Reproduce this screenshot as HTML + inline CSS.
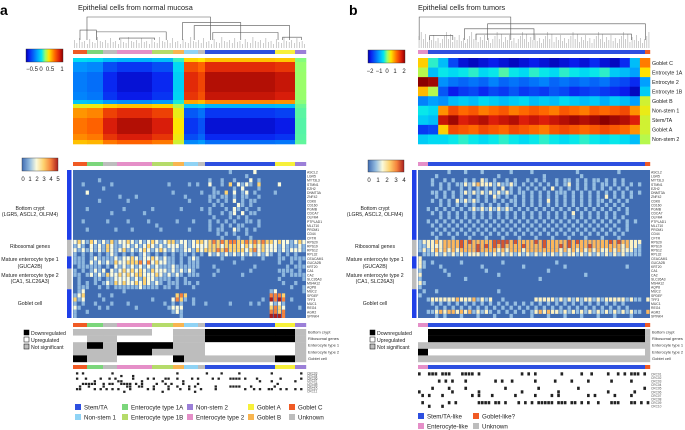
<!DOCTYPE html>
<html><head><meta charset="utf-8"><style>
html,body{margin:0;padding:0;background:#fff;}
svg{display:block;font-family:"Liberation Sans",sans-serif;}
</style></head><body>
<svg id="fig" width="685" height="430" viewBox="0 0 685 430" xmlns="http://www.w3.org/2000/svg">
<text x="0" y="15" font-size="14" font-weight="bold">a</text>
<text x="78" y="10" font-size="7.3" fill="#222">Epithelial cells from normal mucosa</text>
<text x="349" y="15" font-size="14" font-weight="bold">b</text>
<text x="418" y="10" font-size="7.3" fill="#222">Epithelial cells from tumors</text>
<g id="layer"></g>
</svg>
<script>
// ---------------- DATA ----------------
const groupNamesA = ["Goblet C","Enterocyte type 1A","Unknown","Enterocyte type 2","Enterocyte type 1B","Goblet B","Non-stem 1","Unknown","Stem/TA","Goblet A","Non-stem 2"];
const groupColorsA = ["#f05a24","#7bd67b","#bdbdbd","#e58fc8","#b5db6a","#f8b550","#8fd3f5","#bdbdbd","#2d4fe0","#f7f03a","#9b7fd8"];
const groupSizesA = [14,16,14,35,21,11,14,7,70,20,11];
const groupLoadA = [-0.55,-0.6,-0.85,-0.95,-0.85,-0.25,0.8,0.7,0.95,0.9,0.05];
const rowSizesA = [4,10,20,8,4,4,10,16,6,4];
const rowLoadA = [0.35,0.8,0.95,0.9,0.5,-0.35,-0.8,-0.95,-0.85,-0.6];

const groupNamesB = ["Enterocyte-like","Stem/TA-like","Goblet-like?"];
const groupColorsB = ["#e58fc8","#2d4fe0","#f05a24"];
const groupSizesB = [10,217,5];
const sigRowsB = ["Goblet C","Entrocyte 1A","Entrocyte 2","Entrocyte 1B","Goblet B","Non-stem 1","Stem/TA","Goblet A","Non-stem 2"];
const sigValsB = [
 [0.6,-0.2,-0.6,-1.4,-1.8,-1.9,-1.8,-1.7,-1.8,-1.9,-1.8,-1.7,-1.8,-1.9,-1.8,-1.7,-1.8,-1.6,-1.8,-1.9,-1.6,-0.6,1.0],
 [0.2,-0.6,-0.3,-0.4,-0.3,-0.2,-0.4,-0.3,-0.1,-0.3,-0.4,-0.2,-0.3,-0.4,-0.2,-0.3,-0.4,-0.3,-0.2,-0.5,-0.6,-0.8,0.5],
 [2.0,1.9,-0.9,-1.1,-1.2,-1.1,-1.2,-1.0,-1.2,-1.1,-1.2,-1.1,-1.0,-1.2,-1.1,-1.2,-1.1,-1.2,-1.1,-1.3,-1.4,-1.6,-0.8],
 [0.7,0.2,-1.3,-1.7,-1.5,-1.4,-1.6,-1.4,-1.5,-1.3,-1.5,-1.4,-1.5,-1.3,-1.4,-1.6,-1.5,-1.4,-1.5,-1.6,-1.7,-1.9,-0.5],
 [-1.0,-0.8,-0.9,-0.6,-0.5,-0.6,-0.4,-0.5,-0.6,-0.5,-0.4,-0.6,-0.5,-0.6,-0.4,-0.5,-0.6,-0.5,-0.7,-0.5,-0.6,-0.8,0.3],
 [-0.3,-0.4,0.9,1.3,1.1,1.2,1.0,1.1,1.2,1.0,1.1,1.2,1.1,1.0,1.2,1.1,1.0,1.2,1.1,1.2,1.3,0.9,0.4],
 [-0.5,-0.6,1.7,1.9,1.6,1.7,1.8,1.6,1.7,1.8,1.6,1.7,1.6,1.7,1.8,1.9,1.8,1.9,2.0,1.9,1.8,1.6,0.3],
 [-1.5,-1.4,0.6,1.3,1.2,1.1,1.3,1.2,1.1,1.3,1.2,1.1,1.0,1.2,1.3,1.2,1.1,1.2,1.3,1.2,1.1,0.9,0.3],
 [-0.5,-0.4,-0.4,-0.3,-0.2,-0.3,-0.4,-0.3,-0.2,-0.3,-0.4,-0.3,-0.2,-0.3,-0.4,-0.3,-0.2,-0.3,-0.4,-0.3,-0.4,-0.6,0.2]
];

const genes = ["ASCL2","LGR5","MYT3L3","STMN1","EZH2","DNMT3A","ZNF42","CDK6","CD160","PGMB","CDCA7","OLFM4","PTPLAD1","MLLT10","PROM1","CD44","CFTR",
 "RPS20","RPS19","RPS12","RPL32","CEACAM1","GUCA2B","KRT20","CA1","CA2","SLC26A3","MS4A12","AQP8","MUC2","SPDEF","TFF3","MUC1","REG4","AGR2","SPINK4"];
const geneGroupSizes = [17,4,3,5,7];
const geneGroupSide = ["#1f3fe8","#bdbdbd","#1f3fe8","#bdbdbd","#1f3fe8"];
const exprA = [
"000000000000000000000000000000000000001000002000000000000",
"000000000000000000000000000000000000000000100000000000000",
"000000100000000000000000000000000100100100020100000000000",
"001000000100000000000001000010100200103021210300002000000",
"000000010000000000000000000000000010000102000100000000000",
"000200000000000000000000100000010011030201201000010000000",
"000000000001000100000000000100000110110101100100000000000",
"000000100000010000000000000010000101010201011000000000000",
"000000000000000000000000000000000010100021010000000000000",
"000100000000100000010000001000010100010210100100000000000",
"000000000100000001000000000000000100101202011000000000000",
"000000000000000000000000000000000010001010100000000000000",
"001000001000010000100000010001000101010100110100000000000",
"000000000000000000001000000000000100101011000100000000000",
"000100000010001000000100000010000101100210101000000000000",
"000000000000000000000000000000000001010100100000000000000",
"000000000000000000000000000000000000100010010000000000000",
"232132121312232121232123312212332343434433434343323221232",
"121021213211221212321212221212222333233332323232221211121",
"212121213212312123212321211221323334343333234232221212221",
"101010101210101012101010101101010212121212121212101010100",
"111012111121223212232121101012100000100001000010001101111",
"111021212132233342423221101011100000000100000000001001010",
"011111101021212121212111211111100010000000001000000010111",
"101012120212323232132221212121000001000000010000001111010",
"110121213223232332223212121011100010000001000000000101111",
"010001101122221213221111010100000000000000000000001000001",
"010101012132322323212101110110100000000000000000000100100",
"011100101011111121111011010001000000000000000000000001001",
"012000000000100000000000000000000000000000000000120000001",
"123000100100000000000000034300000000000000000000444300000",
"312000010000000000010000243101000000000000000010545401000",
"101001000100010000000010101001001000001000010100212100000",
"210000101000000100000001222000000000000000000000343200010",
"100100000000000000000000121000000000000000000000443400000",
"100000000000000000000000001000000000000000000000555400000"
];
const exprB = [
"00000001000100010000001000010000000000100000000010000000",
"00001000000000000001000000000010000000010000000000000000",
"00010010100101021010010100101010010110101011010101000000",
"00010101011212322212112101010101010120101010110101010100",
"00000101001010101010201010101010201010101010101010100000",
"00011010101212121212121011010101011101010101010101010100",
"00001010101010101021010101010101010101010101020101010000",
"00010101021212101010101101010102010101010101101010100000",
"00000101010101010101010101010101010101010101010101000000",
"00101010101012121212121010101010101010101010101010100000",
"00010101010101010101010101010101010102010101010100100000",
"00000101010101010101010101010101010101010101010101000000",
"00101010101010101010101010101010101010101010101010101000",
"00010101010101010101010101010101010101010101010100100000",
"00001010101010101010101010101010101010101010101010100000",
"00010101010101010101010101010101010101010101010101000000",
"00001000100010001000100010001000100010001000100010000000",
"12223233334343333344443433334343333343433333334343322200",
"11222233334333434343433334333343334343333433333332322100",
"12123232323333433332323332333333332323232323223232221100",
"01112121212122212121212121212121212122121212121212111100",
"20000000000000000000000000000000000000000000000000000000",
"21010000001000000000100000000000010000000000000000000000",
"21000100000000010000000001000000000100000000000000100000",
"10000010000000001000000000000001000000000000000000000000",
"20000001000000000001000000000000000000001000000000000000",
"10000000000100000000000000000100000000000000000000000000",
"21000000000000000000000000000000000000000000000000000000",
"10000000000000000000000000000000000000000000000000000000",
"01001000000000000001000000000000000000000000000000000000",
"10000000000000000000000000000000000000000000000000000000",
"00122222232223121200100000002222212121212212122222121102",
"00010101010101010101010101010101010101010101010101000000",
"00001010101010101010101010101010101010101010101010100000",
"00112323323231212101010101012323221212121212121212121103",
"00001010001000100010001000010001000100010001000100010000"
];
const updownLabels = ["Bottom crypt","Ribosomal genes","Enterocyte type 1","Enterocyte type 2","Goblet cell"];
const updownA = [
 [2,2,2,2,1,2,2,2,0,0,2],
 [1,2,2,1,1,2,2,2,0,0,2],
 [2,0,2,0,0,2,2,2,1,1,2],
 [2,2,2,0,2,2,2,2,1,1,2],
 [0,2,2,1,1,0,2,2,2,0,2]
];
const updownB = [
 [1,0,2],[1,0,2],[2,2,2],[0,1,2],[2,2,2]
];
const mutLabelsA = ["CRC03","CRC04","CRC06","CRC07","CRC08","CRC09","CRC10","CRC11"];
const mutA = [
"0101000000000100000000000000000000010000000001000010000010000000000100000000010",
"0000000000000000100010000000000000000000000000000000000000000000000000000000000",
"0100100001001010000010000101000110010000101000010100011110100010000000100000010",
"0000000100000001100000010000001000000100000000000000000000000001000100000001000",
"0001111100101100111101010000100101000100001000000000000000000000000001000000000",
"0010010000100000001100110001000010010001010000001000011110001000000010000000000",
"0110000101010101000100000101000010001001000100001000000000100101001100101001010",
"0000000000000000010000000000001000000000010000000000000000000000000000000000000"
];
const mutLabelsB = ["CRC01","CRC02","CRC03","CRC04","CRC05","CRC06","CRC07","CRC08","CRC09","CRC10"];
const mutB = [
"1001110111000111101000000000000101010000000100000100100001001010111010",
"0000000000000000000000000000000000000000000000000000000000000000000000",
"0000001010100010000000010100100000010000010000100001000000100000100000",
"0000000000000000000000000000000000000000000000000000000000000000000000",
"0000100001000010000000000010000000001000000000001000000000000000000010",
"1000000000100000001000000000000100000000001000000000000001000000010000",
"0101000100000000101000100000010000010000101000000001010000010000100000",
"0000000000000000000000000000000000000000000000000000000000000000000000",
"0100000001010000001111011010001010101111101110110101001000111000110101",
"0001000100000000000000000000000000000000000000000000000000000000000000"
];
const dendroA = [[0.06,0.59,1.0],[0.03,0.10,0.58],[0.10,0.40,0.52],[0.47,0.72,0.82],[0.52,0.93,0.72],[0.60,0.88,0.5],[0.90,0.98,0.35],[0.20,0.35,0.32]];
const dendroB = [[0.005,0.40,1.0],[0.30,0.98,0.78],[0.20,0.50,0.62],[0.25,0.92,0.45],[0.05,0.15,0.4]];

// ---------------- HELPERS ----------------
const NS="http://www.w3.org/2000/svg";
const layer=document.getElementById('layer');
function mk(tag,attrs,parent){const e=document.createElementNS(NS,tag);for(const k in attrs)e.setAttribute(k,attrs[k]);(parent||layer).appendChild(e);return e;}
function grp(name){const g=document.createElementNS(NS,'g');
 
 
 layer.appendChild(g);return g;}
function lerp(a,b,t){return a+(b-a)*t;}
function ramp(stops,t){t=Math.max(0,Math.min(1,t));for(let i=1;i<stops.length;i++){if(t<=stops[i][0]){const s=stops[i-1],e=stops[i];const u=(t-s[0])/(e[0]-s[0]);return `rgb(${Math.round(lerp(s[1],e[1],u))},${Math.round(lerp(s[2],e[2],u))},${Math.round(lerp(s[3],e[3],u))})`;}}const l=stops[stops.length-1];return `rgb(${l[1]},${l[2]},${l[3]})`;}
const jetStops=[[0,0,0,170],[0.08,10,30,240],[0.3,0,160,255],[0.42,0,230,240],[0.52,150,255,110],[0.62,255,230,0],[0.78,255,100,0],[0.9,220,30,10],[1,140,0,0]];
const exprStops=[[0,64,108,178],[0.22,150,190,225],[0.4,250,250,220],[0.6,254,210,110],[0.8,245,130,60],[1,170,30,30]];
function jet(t){return ramp(jetStops,t);}
function exprCol(v,max){return ramp(exprStops,v/max);}
function scaleX(x0,w,total){return i=>x0+w*i/total;}

// ---------------- COLOUR BARS ----------------
function groupBar(x0,w,y,h,sizes,colors,name){
 const g=grp(name);const tot=sizes.reduce((a,b)=>a+b,0);const sx=scaleX(x0,w,tot);let c=0;
 sizes.forEach((s,i)=>{const r=mk('rect',{x:sx(c),y:y,width:sx(c+s)-sx(c)+0.2,height:h,fill:colors[i]},g);
  
  c+=s;});
}
[50,162,323,365].forEach(y=>groupBar(73,233,y,4,groupSizesA,groupColorsA,'cluster-color-bar-a'));
[50,162,323,365].forEach(y=>groupBar(418,232,y,4,groupSizesB,groupColorsB,'cluster-color-bar-b'));

// ---------------- DENDROGRAMS ----------------
function dendro(x0,w,y0,h,merges,name,dense){
 const g=grp(name);
 for(let i=0;i<dense.n;i++){const x=x0+w*(i+0.5)/dense.n;const hh=dense.h[i%dense.h.length];
  mk('line',{x1:x,y1:y0+h,x2:x,y2:y0+h-hh,stroke:'#999','stroke-width':0.5},g);}
 merges.forEach(m=>{const xa=x0+w*m[0],xb=x0+w*m[1],yy=y0+h-h*m[2];
  const base=y0+h-8;
  const p=mk('path',{d:`M${xa},${base}V${yy}H${xb}V${base}`,fill:'none',stroke:'#555','stroke-width':0.6},g);
  
  });
}
dendro(73,233,17,31,dendroA,'dendrogram-a',{n:90,h:[8,5,10,6,7,4,9,6,5,11,7,6]});
dendro(418,232,17,31,dendroB,'dendrogram-b',{n:110,h:[12,16,9,14,6,11,8,13,7,10,5,9]});

// ---------------- CORRELATION HEATMAP A ----------------
(function(){
 const g=grp('correlation-heatmap-a');
 const x0=73,w=233,y0=58,h=86;
 const ctot=groupSizesA.reduce((a,b)=>a+b,0),rtot=rowSizesA.reduce((a,b)=>a+b,0);
 const sx=scaleX(x0,w,ctot),sy=scaleX(y0,h,rtot);
 let r=0;
 rowSizesA.forEach((rs,ri)=>{let c=0;
  groupSizesA.forEach((cs,ci)=>{const v=rowLoadA[ri]*groupLoadA[ci];
   const cell=mk('rect',{x:sx(c),y:sy(r),width:sx(c+cs)-sx(c)+0.3,height:sy(r+rs)-sy(r)+0.3,fill:jet((v+1)/2)},g);
   
   
   c+=cs;});
  r+=rs;});
})();

// ---------------- SIGNATURE HEATMAP B ----------------
(function(){
 const g=grp('signature-heatmap-b');
 const x0=418,w=232,y0=58,h=86,rh=h/sigRowsB.length;
 sigValsB.forEach((row,ri)=>{const sx=scaleX(x0,w,row.length);
  row.forEach((v,ci)=>{const cell=mk('rect',{x:sx(ci),y:y0+ri*rh,width:sx(ci+1)-sx(ci)+0.3,height:rh+0.3,fill:jet((v+2)/4)},g);
   
   });
  const t=mk('text',{x:652,y:y0+ri*rh+rh/2+2,'font-size':5.3,fill:'#222'},g);t.textContent=sigRowsB[ri];
  
  
 });
})();

// ---------------- EXPRESSION HEATMAPS ----------------
function exprHeat(x0,w,data,max,name,labels){
 const g=grp(name);const y0=170,h=148,rh=h/data.length;
 mk('rect',{x:x0,y:y0,width:w,height:h,fill:exprCol(0,max)},g);
 data.forEach((s,ri)=>{const sx=scaleX(x0,w,s.length);
  for(let ci=0;ci<s.length;ci++){const v=+s[ci];if(v===0)continue;
   const cell=mk('rect',{x:sx(ci)+0.4,y:y0+ri*rh,width:(sx(ci+1)-sx(ci))*0.8,height:rh,fill:exprCol(v,max)},g);
   
   }
  if(labels){const t=mk('text',{x:x0+w+1,y:y0+ri*rh+rh-0.6,'font-size':3.4,fill:'#333'},g);t.textContent=genes[ri];
   
   }
 });
 let r=0;geneGroupSizes.forEach((n,i)=>{mk('rect',{x:x0-6,y:y0+r*rh,width:4.5,height:n*rh,fill:geneGroupSide[i]},g);r+=n;});
}
exprHeat(73,233,exprA,5,'expression-heatmap-a',true);
exprHeat(418,232,exprB,4.5,'expression-heatmap-b',true);

function groupLabels(xr,prefix){
 const L=[["Bottom crypt",210],["(LGR5, ASCL2, OLFM4)",216],["Ribosomal genes",248],["Mature enterocyte type 1",261],["(GUCA2B)",268],["Mature enterocyte type 2",277],["(CA1, SLC26A3)",283],["Goblet cell",305]];
 const g=grp(prefix+'-gene-group-labels');
 L.forEach(l=>{const t=mk('text',{x:xr,y:l[1],'font-size':5.2,'text-anchor':'middle',fill:'#222'},g);t.textContent=l[0];});
}
groupLabels(30,'a');groupLabels(375,'b');

// ---------------- UP/DOWN MATRIX ----------------
const udFill=['#000','#fff','#bdbdbd'];
function updown(x0,w,sizes,mat,name){
 const g=grp(name);const y0=329,rh=6.6;const tot=sizes.reduce((a,b)=>a+b,0);const sx=scaleX(x0,w,tot);
 mat.forEach((row,ri)=>{let c=0;row.forEach((v,ci)=>{const r=mk('rect',{x:sx(c),y:y0+ri*rh,width:sx(c+sizes[ci])-sx(c)+0.2,height:rh+0.2,fill:udFill[v]},g);
   
   c+=sizes[ci];});
  const t=mk('text',{x:x0+w+2,y:y0+ri*rh+4.5,'font-size':4,fill:'#333'},g);t.textContent=updownLabels[ri];});
}
updown(73,233,groupSizesA,updownA,'regulation-matrix-a');
updown(418,232,groupSizesB,updownB,'regulation-matrix-b');
function udLegend(x,name){const g=grp(name);["Downregulated","Upregulated","Not significant"].forEach((s,i)=>{
 mk('rect',{x:x,y:330+i*7,width:5,height:5,fill:udFill[i],stroke:'#000','stroke-width':0.5},g);
 const t=mk('text',{x:x+7,y:335+i*7,'font-size':5.2,fill:'#222'},g);t.textContent=s;});}
udLegend(24,'regulation-legend-a');udLegend(370,'regulation-legend-b');

// ---------------- MUTATIONS ----------------
function muts(x0,w,y0,h,data,labels,name){
 const g=grp(name);const rh=h/data.length;
 data.forEach((s,ri)=>{const sx=scaleX(x0,w,s.length);
  for(let i=0;i<s.length;i++){if(s[i]!=='1')continue;
   const r=mk('rect',{x:sx(i),y:y0+ri*rh+0.3,width:(sx(i+1)-sx(i))*0.8,height:rh-0.4,fill:'#222'},g);
   
   }
  const t=mk('text',{x:x0+w+1,y:y0+ri*rh+rh-0.3,'font-size':3.2,fill:'#555'},g);t.textContent=labels[ri];});
}
muts(73,233,372,21,mutA,mutLabelsA,'mutation-track-a');
muts(418,232,372,36,mutB,mutLabelsB,'mutation-track-b');

// ---------------- COLOUR SCALE BARS ----------------
function gradBar(id,x,y,w,h,stops,name){
 const d=mk('defs',{});const lg=mk('linearGradient',{id:id,x1:0,x2:1,y1:0,y2:0},d);
 stops.forEach(s=>mk('stop',{offset:s[0],'stop-color':`rgb(${s[1]},${s[2]},${s[3]})`},lg));
 const r=mk('rect',{x:x,y:y,width:w,height:h,fill:`url(#${id})`,stroke:'#333','stroke-width':0.4});
 
 
}
function ticks(lbls,xs,y,name){const g=grp(name);lbls.forEach((l,i)=>{const t=mk('text',{x:xs[i],y:y,'font-size':6,'text-anchor':'middle',fill:'#222'},g);t.textContent=l;});}
gradBar('gj1',26,49,37,13,jetStops,'correlation-color-scale');
ticks(["−0.5","0","0.5","1"],[32,41,50,62],71,'correlation-scale-ticks');
gradBar('gj2',368,50,37,13,jetStops,'signature-color-scale');
ticks(["−2","−1","0","1","2"],[370,379,387,395,404],73,'signature-scale-ticks');
gradBar('ge1',22,158,36,13,exprStops,'expression-color-scale-a');
ticks(["0","1","2","3","4","5"],[23,30,37,44,51,58],181,'expression-scale-ticks-a');
gradBar('ge2',368,160,36,12,exprStops,'expression-color-scale-b');
ticks(["0","1","2","3","4"],[369,378,387,396,404],182,'expression-scale-ticks-b');

// ---------------- LEGENDS ----------------
const legA=[["Stem/TA","#2d4fe0",75,404],["Enterocyte type 1A","#7bd67b",122,404],["Non-stem 2","#9b7fd8",187,404],["Goblet A","#f7f03a",248,404],["Goblet C","#f05a24",289,404],
 ["Non-stem 1","#8fd3f5",75,414],["Enterocyte type 1B","#b5db6a",122,414],["Enterocyte type 2","#e58fc8",187,414],["Goblet B","#f8b550",248,414],["Unknown","#bdbdbd",289,414]];
const legB=[["Stem/TA-like","#2d4fe0",418,413],["Goblet-like?","#f05a24",473,413],["Enterocyte-like","#e58fc8",418,423],["Unknown","#bdbdbd",473,423]];
function legend(items,name){const g=grp(name);items.forEach(it=>{
 const r=mk('rect',{x:it[2],y:it[3],width:6,height:6,fill:it[1]},g);
 
 
 const t=mk('text',{x:it[2]+9,y:it[3]+5.5,'font-size':6.2,fill:'#222'},g);t.textContent=it[0];
 
 });}
legend(legA,'cluster-legend-a');legend(legB,'cluster-legend-b');
</script>
</body></html>
